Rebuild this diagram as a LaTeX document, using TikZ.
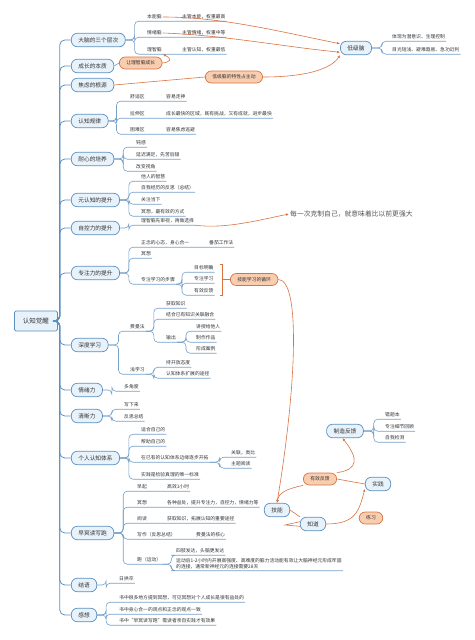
\documentclass[tikz,border=0pt]{standalone}
\usepackage{fontspec}
\setmainfont{Noto Sans CJK SC}
\usepackage{xcolor}
\usepackage{tikz}
\usetikzlibrary{arrows.meta}
\definecolor{mapInk}{HTML}{333333}
\definecolor{mapBlue}{HTML}{5B8FBF}
\definecolor{mapBlueFill}{HTML}{E8F2FB}
\definecolor{mapOrange}{HTML}{D9733F}
\definecolor{mapOrangeFill}{HTML}{F9CDB0}
\definecolor{mapGrey}{HTML}{555555}
\newcommand{\maprootfont}{\fontsize{6.5}{8}\selectfont}
\newcommand{\maptopicfont}{\fontsize{5.7}{6.8}\selectfont}
\newcommand{\mapleaffont}{\fontsize{4.8}{5.8}\selectfont}
\tikzset{
    map/root/.style={
        rectangle, rounded corners=1.5pt,
        draw=mapBlue, fill=mapBlueFill, text=mapInk,
        line width=0.8pt, font=\maprootfont,
        minimum width=43pt, minimum height=20pt, anchor=west
    },
    map/topic/.style={
        rectangle, rounded corners=6pt,
        draw=mapBlue, fill=mapBlueFill, text=mapInk,
        line width=0.7pt, font=\maptopicfont,
        inner xsep=7pt, minimum height=13.5pt
    },
    map/note box/.style={
        map/topic, draw=mapOrange, fill=mapOrangeFill,
        font=\mapleaffont, minimum height=12pt
    },
    map/text/.style={
        anchor=west, font=\mapleaffont, text=mapInk,
        inner xsep=1pt, inner ysep=1.5pt
    },
    map/leaf/.style={
        map/text, text height=4pt, text depth=1pt
    },
    map/quote/.style={
        anchor=west, font=\fontsize{6.8}{8}\selectfont,
        text=mapGrey, inner sep=1pt
    },
    map/branch/.style={
        draw=mapBlue, line width=0.8pt, rounded corners=5pt
    },
    map/line/.style={
        draw=mapBlue!85, line width=0.6pt, rounded corners=4pt
    },
    map/link/.style={
        draw=mapOrange, line width=0.6pt
    },
    map/link arrow/.style={
        map/link, -{Latex[length=3pt,width=2.6pt]}
    }
}
\begin{document}
\begin{tikzpicture}[x=1pt,y=-1pt]
    \useasboundingbox (0,0) rectangle (474,640);
    \node[map/root] (mind) at (14,321) {认知觉醒};

    \node[map/topic, anchor=west] (layers) at (71,40) {大脑的三个层次};
    \node[map/topic, anchor=west] (growth) at (71,66) {成长的本质};
    \node[map/topic, anchor=west] (anxiety) at (71,85) {焦虑的根源};
    \node[map/topic, anchor=west] (rules) at (71,121) {认知规律};
    \node[map/topic, anchor=west] (patience) at (71,159) {耐心的培养};
    \node[map/topic, anchor=west] (meta) at (71,200) {元认知的提升};
    \node[map/topic, anchor=west] (control) at (71,228) {自控力的提升};
    \node[map/topic, anchor=west] (focus) at (71,273) {专注力的提升};
    \node[map/topic, anchor=west] (deep) at (71,345) {深度学习};
    \node[map/topic, anchor=west] (emotion) at (71,390) {情绪力};
    \node[map/topic, anchor=west] (clarity) at (71,416) {清晰力};
    \node[map/topic, anchor=west] (system) at (71,458) {个人认知体系};
    \node[map/topic, anchor=west] (habit) at (71,533) {早冥读写跑};
    \node[map/topic, anchor=west] (ending) at (71,585) {结语};
    \node[map/topic, anchor=west] (thoughts) at (71,615) {感想};

    \node[map/leaf] (bn) at (146,17) {本能脑};
    \node[map/leaf] (bnnote) at (181,17) {主管本能，权重最高};
    \node[map/leaf] (qx) at (146,33) {情绪脑};
    \node[map/leaf] (qxnote) at (181,33) {主管情绪，权重中等};
    \node[map/leaf] (lz) at (146,50) {理智脑};
    \node[map/leaf] (lznote) at (181,50) {主管认知，权重最低};
    \node[map/note box, anchor=west] (growbox) at (119,63) {让理智脑成长};
    \node[map/note box, anchor=west] (traitbox) at (205,77) {低级脑的特性占主动};
    \node[map/topic] (lower) at (356,48) {低级脑};
    \node[map/leaf] (lowera) at (391,37) {体现为潜意识、生理控制};
    \node[map/leaf] (lowerb) at (391,50) {目光短浅、避难趋易、急功近利};

    \node[map/leaf] (comfort) at (129,97) {舒适区};
    \node[map/leaf] (comfortnote) at (165,97) {容易走神};
    \node[map/leaf] (stretch) at (129,114) {拉伸区};
    \node[map/leaf] (stretchnote) at (165,114)
        {成长最快的区域，既有挑战，又有成就，进步最快};
    \node[map/leaf] (panic) at (129,130) {困难区};
    \node[map/leaf] (panicnote) at (165,130) {容易焦虑逃避};

    \node[map/leaf] (dull) at (135,143) {钝感};
    \node[map/leaf] (delay) at (135,155) {延迟满足，先苦后甜};
    \node[map/leaf] (view) at (135,167) {改变视角};

    \node[map/leaf] (others) at (140,177) {他人的智慧};
    \node[map/leaf] (reflect) at (140,188) {自我经历的反思（总结）};
    \node[map/leaf] (present) at (140,200) {关注当下};
    \node[map/leaf] (meditate) at (140,212) {冥想，最有效的方式};

    \node[map/leaf] (calm) at (140,221) {理智脑先审视，再做选择};
    \node[map/quote] (quote) at (289,214) {每一次克制自己，就意味着比以前更强大};

    \node[map/leaf] (mindful) at (140,243) {正念的心态，身心合一};
    \node[map/leaf] (tomato) at (208,243) {番茄工作法};
    \node[map/leaf] (fmed) at (140,254) {冥想};
    \node[map/leaf] (steps) at (140,280) {专注学习的步骤};
    \node[map/leaf] (aim) at (193,268) {目标明确};
    \node[map/leaf] (study) at (193,279) {专注学习};
    \node[map/leaf] (fbk) at (193,291) {有效反馈};
    \node[map/note box, anchor=west] (loopbox) at (230,279.5) {技能学习的循环};

    \node[map/leaf] (feynman) at (129,327) {费曼法};
    \node[map/leaf] (acquire) at (165,304) {获取知识};
    \node[map/leaf] (combine) at (165,315) {结合已有知识关联融合};
    \node[map/leaf] (output) at (165,338) {输出};
    \node[map/leaf] (teach) at (195,327) {讲授给他人};
    \node[map/leaf] (make) at (195,338) {制作作品};
    \node[map/leaf] (cases) at (195,349) {形成案例};
    \node[map/leaf] (shallow) at (129,370) {浅学习};
    \node[map/leaf] (openness) at (165,363) {持开放态度};
    \node[map/leaf] (extend) at (165,374) {认知体系扩展的途径};

    \node[map/leaf] (angles) at (123,387) {多角度};
    \node[map/leaf] (writedown) at (123,405) {写下来};
    \node[map/leaf] (review) at (123,417) {反思总结};

    \node[map/leaf] (suit) at (140,430) {适合自己的};
    \node[map/leaf] (help) at (140,442) {帮助自己的};
    \node[map/leaf] (expand) at (140,458) {在已有的认知体系边缘逐步开拓};
    \node[map/leaf] (relate) at (230,453) {关联，类比};
    \node[map/leaf] (topic) at (230,464) {主题阅读};
    \node[map/leaf] (practice) at (140,475) {实践是检验真理的唯一标准};

    \node[map/leaf] (early) at (136,487) {早起};
    \node[map/leaf] (earlynote) at (166,487) {高效1小时};
    \node[map/leaf] (hmed) at (136,503) {冥想};
    \node[map/leaf] (hmednote) at (166,503)
        {各种益处，提升专注力，自控力，情绪力等};
    \node[map/leaf] (read) at (136,519) {阅读};
    \node[map/leaf] (readnote) at (166,519) {获取知识，拓展认知的重要途径};
    \node[map/leaf] (write) at (136,535) {写作（反思总结）};
    \node[map/leaf] (writenote) at (195,535) {费曼法的核心};
    \node[map/leaf] (run) at (136,560) {跑（运动）};
    \node[map/leaf] (runa) at (175,551) {四肢发达，头脑更发达};
    \node[map/text, anchor=north west, align=left] (runb) at (175,557)
        {运动后1-2小时内开展高强度、高难度的脑力活动能有效让大脑神经元形成牢固\\
         的连接，通常新神经元的连接需要28天};

    \node[map/leaf] (daily) at (118,579) {日拱卒};
    \node[map/leaf] (tha) at (118,598)
        {书中很多地方提到冥想，可见冥想对个人成长是很有益处的};
    \node[map/leaf] (thb) at (118,610) {书中身心合一的观点和正念的观点一致};
    \node[map/leaf] (thc) at (118,621) {书中“早冥读写跑”需读者亲自实践才有效果};

    \node[map/topic] (maker) at (345,431) {制造反馈};
    \node[map/leaf] (errbook) at (384,415) {错题本};
    \node[map/leaf] (details) at (384,427) {专注细节回顾};
    \node[map/leaf] (selfcheck) at (384,438) {自我检测};
    \node[map/note box] (feedback) at (320,479) {有效反馈};
    \node[map/topic] (doing) at (378,484) {实践};
    \node[map/topic] (skill) at (277,510) {技能};
    \node[map/topic] (knowing) at (313,524) {知道};
    \node[map/note box] (drill) at (371,518) {练习};
    \coordinate (knowtip) at (285,525);

    \draw[map/branch] (mind.east) -- ++(2,0) |- (layers.west);
    \draw[map/branch] (mind.east) -- ++(2,0) |- (growth.west);
    \draw[map/branch] (mind.east) -- ++(2,0) |- (anxiety.west);
    \draw[map/branch] (mind.east) -- ++(2,0) |- (rules.west);
    \draw[map/branch] (mind.east) -- ++(2,0) |- (patience.west);
    \draw[map/branch] (mind.east) -- ++(2,0) |- (meta.west);
    \draw[map/branch] (mind.east) -- ++(2,0) |- (control.west);
    \draw[map/branch] (mind.east) -- ++(2,0) |- (focus.west);
    \draw[map/branch] (mind.east) -- ++(2,0) |- (deep.west);
    \draw[map/branch] (mind.east) -- ++(2,0) |- (emotion.west);
    \draw[map/branch] (mind.east) -- ++(2,0) |- (clarity.west);
    \draw[map/branch] (mind.east) -- ++(2,0) |- (system.west);
    \draw[map/branch] (mind.east) -- ++(2,0) |- (habit.west);
    \draw[map/branch] (mind.east) -- ++(2,0) |- (ending.west);
    \draw[map/branch] (mind.east) -- ++(2,0) |- (thoughts.west);

    \draw[map/line] (layers.east) -- ++(9,0) |- (bn.south west) -- (bnnote.south east);
    \draw[map/line] (layers.east) -- ++(9,0) |- (qx.south west) -- (qxnote.south east);
    \draw[map/line] (layers.east) -- ++(9,0) |- (lz.south west) -- (lznote.south east);
    \draw[map/line] (growth.east) -- (growbox.west);
    \draw[map/line] (lower.east) -- ++(10,0) |- (lowera.south west) -- (lowera.south east);
    \draw[map/line] (lower.east) -- ++(10,0) |- (lowerb.south west) -- (lowerb.south east);

    \draw[map/line] (rules.east) -- ++(8,0) |- (comfort.south west) -- (comfortnote.south east);
    \draw[map/line] (rules.east) -- ++(8,0) |- (stretch.south west) -- (stretchnote.south east);
    \draw[map/line] (rules.east) -- ++(8,0) |- (panic.south west) -- (panicnote.south east);

    \draw[map/line] (patience.east) -- ++(9,0) |- (dull.south west) -- (dull.south east);
    \draw[map/line] (patience.east) -- ++(9,0) |- (delay.south west) -- (delay.south east);
    \draw[map/line] (patience.east) -- ++(9,0) |- (view.south west) -- (view.south east);

    \draw[map/line] (meta.east) -- ++(9,0) |- (others.south west) -- (others.south east);
    \draw[map/line] (meta.east) -- ++(9,0) |- (reflect.south west) -- (reflect.south east);
    \draw[map/line] (meta.east) -- ++(9,0) |- (present.south west) -- (present.south east);
    \draw[map/line] (meta.east) -- ++(9,0) |- (meditate.south west) -- (meditate.south east);

    \draw[map/line] (control.east) -- ++(9,0) |- (calm.south west) -- (calm.south east);

    \draw[map/line] (focus.east) -- ++(9,0) |- (mindful.south west) -- (tomato.south east);
    \draw[map/line] (focus.east) -- ++(9,0) |- (fmed.south west) -- (fmed.south east);
    \draw[map/line] (focus.east) -- ++(9,0) |- (steps.south west) -- (steps.south east);
    \draw[map/line] (steps.south east) -- ++(6,0) |- (aim.south west) -- (aim.south east);
    \draw[map/line] (steps.south east) -- ++(6,0) |- (study.south west) -- (study.south east);
    \draw[map/line] (steps.south east) -- ++(6,0) |- (fbk.south west) -- (fbk.south east);

    \draw[map/line] (deep.east) -- ++(10,0) |- (feynman.south west) -- (feynman.south east);
    \draw[map/line] (deep.east) -- ++(10,0) |- (shallow.south west) -- (shallow.south east);
    \draw[map/line] (feynman.south east) -- ++(8,0) |- (acquire.south west) -- (acquire.south east);
    \draw[map/line] (feynman.south east) -- ++(8,0) |- (combine.south west) -- (combine.south east);
    \draw[map/line] (feynman.south east) -- ++(8,0) |- (output.south west) -- (output.south east);
    \draw[map/line] (output.south east) -- ++(9,0) |- (teach.south west) -- (teach.south east);
    \draw[map/line] (output.south east) -- ++(9,0) |- (make.south west) -- (make.south east);
    \draw[map/line] (output.south east) -- ++(9,0) |- (cases.south west) -- (cases.south east);
    \draw[map/line] (shallow.south east) -- ++(8,0) |- (openness.south west) -- (openness.south east);
    \draw[map/line] (shallow.south east) -- ++(8,0) |- (extend.south west) -- (extend.south east);

    \draw[map/line] (emotion.east) -- ++(9,0) |- (angles.south west) -- (angles.south east);
    \draw[map/line] (clarity.east) -- ++(9,0) |- (writedown.south west) -- (writedown.south east);
    \draw[map/line] (clarity.east) -- ++(9,0) |- (review.south west) -- (review.south east);

    \draw[map/line] (system.east) -- ++(9,0) |- (suit.south west) -- (suit.south east);
    \draw[map/line] (system.east) -- ++(9,0) |- (help.south west) -- (help.south east);
    \draw[map/line] (system.east) -- ++(9,0) |- (expand.south west) -- (expand.south east);
    \draw[map/line] (system.east) -- ++(9,0) |- (practice.south west) -- (practice.south east);
    \draw[map/line] (expand.south east) -- ++(10,0) |- (relate.south west) -- (relate.south east);
    \draw[map/line] (expand.south east) -- ++(10,0) |- (topic.south west) -- (topic.south east);

    \draw[map/line] (habit.east) -- ++(9,0) |- (early.south west) -- (earlynote.south east);
    \draw[map/line] (habit.east) -- ++(9,0) |- (hmed.south west) -- (hmednote.south east);
    \draw[map/line] (habit.east) -- ++(9,0) |- (read.south west) -- (readnote.south east);
    \draw[map/line] (habit.east) -- ++(9,0) |- (write.south west) -- (writenote.south east);
    \draw[map/line] (habit.east) -- ++(9,0) |- (run.south west) -- (run.south east);
    \draw[map/line] (run.south east) -- ++(9,0) |- (runa.south west) -- (runa.south east);
    \draw[map/line] (run.south east) -- ++(9,0) |- (runb.south west) -- (runb.south east);

    \draw[map/line] (ending.east) -- ++(9,0) |- (daily.south west) -- (daily.south east);
    \draw[map/line] (thoughts.east) -- ++(9,0) |- (tha.south west) -- (tha.south east);
    \draw[map/line] (thoughts.east) -- ++(9,0) |- (thb.south west) -- (thb.south east);
    \draw[map/line] (thoughts.east) -- ++(9,0) |- (thc.south west) -- (thc.south east);

    \draw[map/line] (maker.east) -- ++(10,0) |- (errbook.south west) -- (errbook.south east);
    \draw[map/line] (maker.east) -- ++(10,0) |- (details.south west) -- (details.south east);
    \draw[map/line] (maker.east) -- ++(10,0) |- (selfcheck.south west) -- (selfcheck.south east);

    \draw[map/link arrow] (bn.east) .. controls +(60,0) and +(-60,-12) .. (lower.165);
    \draw[map/link arrow] (qx.east) .. controls +(60,2) and +(-60,-6) .. (lower.195);
    \draw[map/link arrow] (growbox.east) .. controls +(8,-1) and +(10,5) .. (lz.south east);
    \draw[map/link] (anxiety.east) -- (traitbox.west);
    \draw[map/link arrow] (traitbox.east) .. controls +(40,0) and +(-10,15) .. (lower.south west);
    \draw[map/link arrow] (calm.south east) .. controls +(30,4) and +(-30,6) .. (quote.west);
    \draw[map/link] ([xshift=5pt]aim.north east) -- ++(3,0) |- ([xshift=5pt]fbk.south east);
    \draw[map/link] (loopbox.west) -- ++(-7,0);
    \draw[map/link arrow] (loopbox.east) .. controls +(22,0) and +(20,-120) .. (skill.north);
    \draw[map/link] (doing.west) -- (feedback.east);
    \draw[map/link arrow] (feedback.south west) .. controls +(-18,4) and +(2,-10) .. (skill.north);
    \draw[map/link arrow] (feedback.north east) .. controls +(22,-3) and +(16,20) .. (maker.250);
    \draw[map/link] (skill.east) -- (knowing.north west);
    \draw[map/link] (knowing.170) -- (knowtip) -- (knowing.190);
    \draw[map/link arrow] (knowing.east) .. controls +(30,0) and +(-6,22) .. (doing.200);
\end{tikzpicture}
\end{document}
